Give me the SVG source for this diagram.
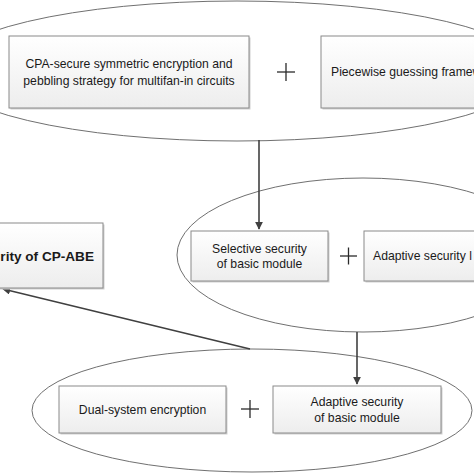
<svg xmlns="http://www.w3.org/2000/svg" width="474" height="474" viewBox="0 0 474 474">
<defs>
<linearGradient id="bg" x1="0" y1="0" x2="0" y2="1">
<stop offset="0" stop-color="#ffffff"/>
<stop offset="1" stop-color="#ededed"/>
</linearGradient>
<marker id="ah" viewBox="0 0 10 10" refX="9" refY="5" markerWidth="5" markerHeight="5" orient="auto" markerUnits="strokeWidth">
<path d="M0,0 L10,5 L0,10 z" fill="#404040"/>
</marker>
<style>
.box{fill:url(#bg);stroke:#8a8a8a;stroke-width:1}
.sh{fill:#d0d0d0}
.ell{fill:none;stroke:#707070;stroke-width:1}
.t{font-family:"Liberation Sans",Arial,sans-serif;font-size:12.2px;fill:#1a1a1a;text-anchor:middle}
.b{font-family:"Liberation Sans",Arial,sans-serif;font-size:13.6px;font-weight:bold;fill:#1a1a1a}
.plus{stroke:#2a2a2a;stroke-width:1.3}
.con{stroke:#404040;stroke-width:1.6;fill:none}
</style>
</defs>
<rect width="474" height="474" fill="#ffffff"/>

<g id="ellipses">
<ellipse class="ell" cx="237" cy="71" rx="296" ry="70"/>
<ellipse class="ell" cx="363" cy="255" rx="186" ry="77"/>
<ellipse class="ell" cx="252" cy="410.5" rx="220" ry="61.5"/>
</g>

<g id="connectors">
<line class="con" x1="259" y1="140" x2="259" y2="229" marker-end="url(#ah)"/>
<line class="con" x1="357" y1="332" x2="357" y2="384" marker-end="url(#ah)"/>
<line class="con" x1="250" y1="349" x2="3" y2="289" marker-end="url(#ah)"/>
</g>

<g id="node-cpa">
<rect class="sh" x="10.5" y="37.5" width="240" height="72"/>
<rect class="box" x="9" y="36" width="240" height="72"/>
<text class="t" x="129" y="68">CPA-secure symmetric encryption and</text>
<text class="t" x="129" y="85">pebbling strategy for multifan-in circuits</text>
</g>
<g id="plus-top"><line class="plus" x1="277" y1="72" x2="295" y2="72"/><line class="plus" x1="286" y1="63" x2="286" y2="81"/></g>
<g id="node-piecewise">
<rect class="sh" x="322.5" y="37.5" width="160" height="72"/>
<rect class="box" x="321" y="36" width="160" height="72"/>
<text class="t" x="331" y="76" style="text-anchor:start">Piecewise guessing framew</text>
</g>

<g id="node-cpabe">
<rect class="sh" x="-8.5" y="224.5" width="113" height="65"/>
<rect class="box" x="-10" y="223" width="113" height="65"/>
<text class="b" x="94" y="261" style="text-anchor:end">rity of CP-ABE</text>
</g>

<g id="node-selective">
<rect class="sh" x="192.5" y="232.5" width="137" height="50"/>
<rect class="box" x="191" y="231" width="137" height="50"/>
<text class="t" x="259.5" y="253">Selective security</text>
<text class="t" x="259.5" y="268">of basic module</text>
</g>
<g id="plus-mid"><line class="plus" x1="340" y1="256" x2="357" y2="256"/><line class="plus" x1="348.5" y1="247.5" x2="348.5" y2="264.5"/></g>
<g id="node-adaptive-lemma">
<rect class="sh" x="365.5" y="232.5" width="120" height="50"/>
<rect class="box" x="364" y="231" width="120" height="50"/>
<text class="t" x="373" y="260" style="text-anchor:start">Adaptive security l</text>
</g>

<g id="node-dual">
<rect class="sh" x="60.5" y="387.5" width="167" height="47"/>
<rect class="box" x="59" y="386" width="167" height="47"/>
<text class="t" x="142.5" y="414">Dual-system encryption</text>
</g>
<g id="plus-bot"><line class="plus" x1="241" y1="409" x2="259" y2="409"/><line class="plus" x1="250" y1="400" x2="250" y2="418"/></g>
<g id="node-adaptive-basic">
<rect class="sh" x="274.5" y="387.5" width="168" height="47"/>
<rect class="box" x="273" y="386" width="168" height="47"/>
<text class="t" x="357" y="406">Adaptive security</text>
<text class="t" x="357" y="421.5">of basic module</text>
</g>
</svg>
